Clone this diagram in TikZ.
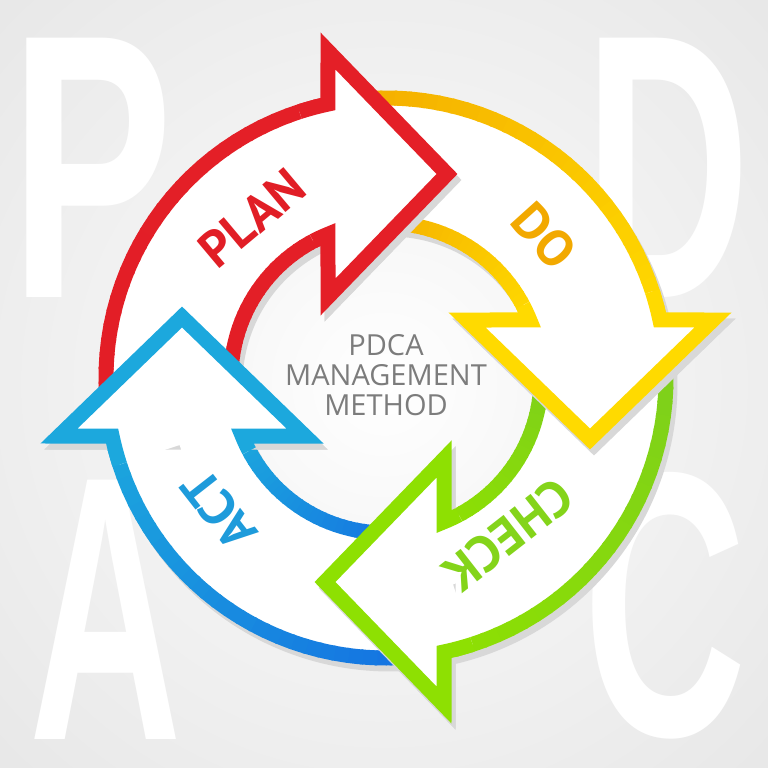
\documentclass[tikz,border=0pt]{standalone}
\usepackage{fontspec}
\setmainfont{Open Sans}
\newfontfamily\bigfont{Liberation Sans}
\newfontfamily\labfont{PT Sans}
\definecolor{bgA}{HTML}{FFFFFF}
\definecolor{bgB}{HTML}{F3F3F3}
\definecolor{bgC}{HTML}{DFDFDF}
\definecolor{bgD}{HTML}{D4D4D4}
\definecolor{shadowc}{HTML}{D8D8D8}
\definecolor{redS}{HTML}{E31E26}
\definecolor{redE}{HTML}{E41F27}
\definecolor{yelS}{HTML}{F4AC00}
\definecolor{yelE}{HTML}{FFDA00}
\definecolor{grnS}{HTML}{7CCE1E}
\definecolor{grnE}{HTML}{8EE002}
\definecolor{bluS}{HTML}{146FE2}
\definecolor{bluE}{HTML}{1CA8DD}
\definecolor{redT}{HTML}{E11E26}
\definecolor{yelT}{HTML}{F2A900}
\definecolor{grnT}{HTML}{84D41A}
\definecolor{bluT}{HTML}{1E9BDB}
\definecolor{txtgray}{HTML}{7C7C7C}
\pgfdeclareradialshading{bgshade}{\pgfpoint{0bp}{0bp}}{color(0bp)=(bgA); color(16bp)=(bgB); color(50bp)=(bgC); color(71bp)=(bgD)}

\tikzset{
  bigletter/.style={anchor=base, text=white, inner sep=0pt, font=\bigfont\bfseries\fontsize{377}{377}\selectfont},
  bandtext/.style={inner sep=0pt, font=\labfont\bfseries\fontsize{51}{51}\selectfont},
  centertext/.style={anchor=base, text=txtgray, inner sep=0pt, font=\fontsize{29}{30}\selectfont},
  shadowfill/.style={fill=shadowc, draw=shadowc, line width=15pt, line join=miter},
  headline/.style={line width=15pt, line join=miter},
}

% whole-arrow shadow
\newcommand{\ArrShadow}[1]{%
  \begin{scope}[shift={(390,384)}, rotate=#1]
    \path[shadowfill] plot[domain=-100:-11.96, samples=60] (\x:280) -- (327,-58) -- (204,61) -- (81,-58)
      -- plot[domain=-21.98:-100, samples=60] (\x:155) -- cycle;
  \end{scope}}
% head shadow
\newcommand{\HeadShadow}[1]{%
  \begin{scope}[shift={(390,384)}, rotate=#1]
    \path[shadowfill] (327,-58) -- (204,61) -- (81,-58) -- cycle;
  \end{scope}}
% shaft with gradient outline
\newcommand{\ArrShaft}[3]{%
  \begin{scope}[shift={(386,378)}, rotate=#1]
    \fill[white] plot[domain=-100:-11.96, samples=60] (\x:280) -- plot[domain=-21.98:-100, samples=60] (\x:155) -- cycle;
    \foreach \i in {0,...,29}{
      \pgfmathsetmacro{\sa}{-100+88.04*\i/30}
      \pgfmathsetmacro{\ea}{-100+88.04*(\i+1)/30+0.5}
      \pgfmathsetmacro{\sb}{-100+78.02*\i/30}
      \pgfmathsetmacro{\eb}{-100+78.02*(\i+1)/30+0.5}
      \pgfmathtruncatemacro{\pc}{100*(\i+0.5)/30}
      \draw[line width=15pt, #3!\pc!#2] plot[domain=\sa:\ea, samples=4] (\x:280);
      \draw[line width=15pt, #3!\pc!#2] plot[domain=\sb:\eb, samples=4] (\x:155);
    }
  \end{scope}}
% arrow head
\newcommand{\ArrHead}[2]{%
  \begin{scope}[shift={(386,378)}, rotate=#1]
    \fill[white] plot[domain=-18:-11.96, samples=8] (\x:280) -- (327,-58) -- (204,61) -- (81,-58)
      -- plot[domain=-21.98:-28, samples=8] (\x:155) -- (-28:217) -- plot[domain=-28:-18, samples=8] (\x:217) -- cycle;
    \draw[headline, draw=#2] plot[domain=-18:-11.96, samples=8] (\x:280) -- (327,-58) -- (204,61) -- (81,-58)
      -- plot[domain=-21.98:-28, samples=8] (\x:155);
  \end{scope}}

\begin{document}
\begin{tikzpicture}[x=1pt, y=-1pt]
\useasboundingbox (0,0) rectangle (768,768);
\shade[shading=bgshade] (0,0) rectangle (768,768);

% big corner letters
\node[bigletter] (bigP) at (92,297) {\scalebox{0.647}[1]{P}};
\node[bigletter] (bigD) at (668,297) {\scalebox{0.61}[1]{D}};
\node[bigletter] (bigA) at (106,739) {\scalebox{0.56}[1]{A}};
\node[bigletter] (bigC) at (665,735) {\scalebox{0.6}[1]{C}};

% shadows
\ArrShadow{90}
\ArrShadow{0}
\ArrShadow{-90}
\ArrShadow{180}

% shafts
\ArrShaft{90}{redS}{redE}
\ArrShaft{0}{yelS}{yelE}
\ArrShaft{-90}{grnS}{grnE}
\ArrShaft{180}{bluS}{bluE}

% head shadows
\HeadShadow{90}
\HeadShadow{0}
\HeadShadow{-90}
\HeadShadow{180}

% heads
\ArrHead{90}{redE}
\ArrHead{0}{yelE}
\ArrHead{-90}{grnE}
\ArrHead{180}{bluE}

% band labels
\node[bandtext, text=redT, rotate=40] (tplan) at (252,218) {PLAN};
\node[bandtext, text=yelT, rotate=-48] (tdo) at (544,236) {DO};
\node[bandtext, text=grnT, rotate=-142] (tcheck) at (508,535) {CHECK};
\node[bandtext, text=bluT, rotate=128] (tact) at (219,510) {ACT};

% centre text
\node[centertext] (c1) at (386,355) {PDCA};
\node[centertext] (c2) at (386,385) {MANAGEMENT};
\node[centertext] (c3) at (386,415) {METHOD};
\end{tikzpicture}
\end{document}
